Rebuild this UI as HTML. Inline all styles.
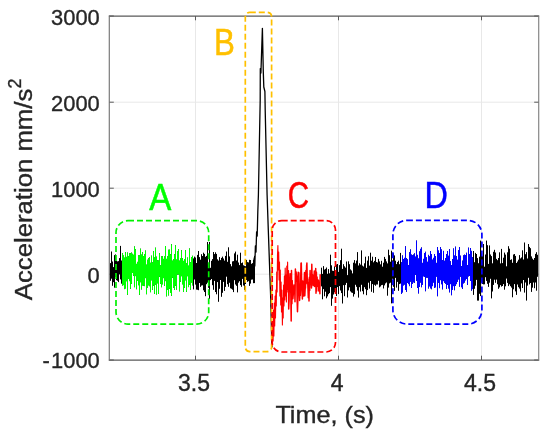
<!DOCTYPE html>
<html><head><meta charset="utf-8"><style>
html,body{margin:0;padding:0;background:#fff;width:550px;height:436px;overflow:hidden}
svg{display:block;filter:blur(0.4px)}
text{font-family:"Liberation Sans", Arial, sans-serif}
.t{stroke:#262626;stroke-width:0.35px}
</style></head><body>
<svg width="550" height="436" viewBox="0 0 550 436">
<rect width="550" height="436" fill="#fff"/>
<line x1="195.5" y1="16.0" x2="195.5" y2="360.0" stroke="#e8e8e8" stroke-width="1"/>
<line x1="338.5" y1="16.0" x2="338.5" y2="360.0" stroke="#e8e8e8" stroke-width="1"/>
<line x1="481.5" y1="16.0" x2="481.5" y2="360.0" stroke="#e8e8e8" stroke-width="1"/>
<line x1="109.5" y1="102.2" x2="538.5" y2="102.2" stroke="#e8e8e8" stroke-width="1"/>
<line x1="109.5" y1="188.2" x2="538.5" y2="188.2" stroke="#e8e8e8" stroke-width="1"/>
<line x1="109.5" y1="274.2" x2="538.5" y2="274.2" stroke="#e8e8e8" stroke-width="1"/>
<path d="M108.9 16.2H539.1M108.9 360.2H539.1" stroke="#5a5a5a" stroke-width="1.2" fill="none"/><path d="M109.3 15.6V360.8" stroke="#7a7a7a" stroke-width="1.2" fill="none"/><path d="M538.7 15.6V360.8" stroke="#878787" stroke-width="1.2" fill="none"/>
<path d="M195.5 360.0v-4.3M195.5 16.0v4.3M338.5 360.0v-4.3M338.5 16.0v4.3M481.5 360.0v-4.3M481.5 16.0v4.3M109.5 16.0h4.3M538.5 16.0h-4.3M109.5 102.2h4.3M538.5 102.2h-4.3M109.5 188.2h4.3M538.5 188.2h-4.3M109.5 274.2h4.3M538.5 274.2h-4.3M109.5 360.0h4.3M538.5 360.0h-4.3" stroke="#5a5a5a" stroke-width="1.0" fill="none"/>
<path d="M110.50 263.1V280.8M111.50 251.5V278.7M112.50 261.5V285.8M113.50 267.1V282.2M114.50 255.1V287.7M115.50 254.4V277.0M116.50 260.9V280.2M117.50 261.4V280.8M118.50 261.1V282.1M119.50 258.1V274.4M120.50 245.9V279.4M121.50 260.5V283.7M122.50 253.3V285.5M123.50 255.5V285.1M124.50 257.7V289.1M125.50 252.1V288.4M126.50 256.9V281.2M127.50 252.6V294.7M128.50 256.1V279.0M129.50 253.4V281.1M130.50 253.2V288.7M131.50 252.6V283.8M132.50 253.8V273.0M133.50 254.8V275.8M134.50 246.5V287.2M135.50 249.2V276.1M136.50 263.9V289.2M137.50 261.9V281.0M138.50 255.0V285.2M139.50 255.4V294.7M140.50 248.7V282.2M141.50 254.6V289.4M142.50 252.1V285.4M143.50 256.0V285.7M144.50 254.4V286.1M145.50 250.6V278.1M146.50 264.7V294.2M147.50 259.8V287.6M148.50 258.1V285.3M149.50 257.4V286.2M150.50 262.8V292.2M151.50 255.7V280.3M152.50 262.4V289.8M153.50 251.2V285.7M154.50 257.5V293.8M155.50 247.7V284.6M156.50 256.7V294.4M157.50 260.3V283.3M158.50 260.5V293.9M159.50 253.3V276.8M160.50 265.4V283.8M161.50 256.4V287.2M162.50 256.1V284.3M163.50 258.9V278.1M164.50 256.5V285.7M165.50 246.0V281.1M166.50 258.9V296.3M167.50 256.4V289.7M168.50 249.8V295.4M169.50 249.7V288.9M170.50 254.2V293.0M171.50 244.2V295.8M172.50 260.7V277.8M173.50 259.0V287.6M174.50 254.2V289.9M175.50 245.4V285.7M176.50 259.6V289.5M177.50 251.4V274.6M178.50 249.1V274.5M179.50 260.7V291.3M180.50 258.5V281.8M181.50 250.3V276.2M182.50 258.1V284.3M183.50 260.9V291.9M184.50 259.0V287.7M185.50 250.1V280.3M186.50 263.4V291.9M187.50 257.6V276.2M188.50 265.7V287.1M189.50 248.5V284.7M190.50 262.1V289.6M191.50 257.3V282.5M192.50 255.8V285.3M193.50 258.4V289.4M194.50 256.6V279.5M195.50 257.5V284.6M196.50 263.0V289.6M197.50 254.9V289.8M198.50 251.0V290.2M199.50 257.1V283.0M200.50 259.7V286.9M201.50 254.2V285.6M202.50 256.0V285.3M203.50 252.7V290.3M204.50 253.9V292.0M205.50 256.8V296.2M206.50 255.9V284.2M207.50 242.0V282.7M208.50 264.6V287.8M209.50 242.0V298.9M210.50 267.8V280.1M211.50 260.8V279.0M212.50 259.1V285.2M213.50 252.0V289.8M214.50 254.1V280.9M215.50 252.3V292.0M216.50 253.9V294.3M217.50 259.3V282.1M218.50 260.6V301.8M219.50 257.1V288.8M220.50 260.1V280.0M221.50 257.9V296.8M222.50 256.6V292.8M223.50 258.5V281.9M224.50 260.6V290.9M225.50 255.9V286.9M226.50 251.5V276.7M227.50 261.8V284.2M228.50 247.3V286.8M229.50 256.4V282.8M230.50 264.1V288.3M231.50 266.3V288.8M232.50 261.4V289.7M233.50 261.1V292.1M234.50 253.4V280.2M235.50 251.6V284.5M236.50 260.5V285.8M237.50 254.7V292.4M238.50 262.5V282.7M239.50 265.1V281.2M240.50 252.7V285.1M241.50 263.1V286.8M242.50 262.5V278.9M243.50 265.3V285.5M244.50 265.8V289.9M245.50 266.2V284.0M246.50 259.9V280.0M247.50 262.1V281.8M248.50 262.4V281.2M249.50 259.8V285.9M250.50 260.0V283.6M251.50 263.8V279.7M252.50 263.1V279.5M253.50 259.7V283.2M254.50 255.8V283.1M321.50 267.7V286.4M322.50 273.9V299.3M323.50 266.1V289.1M324.50 269.6V296.3M325.50 268.9V291.7M326.50 267.5V298.3M327.50 273.8V296.4M328.50 269.1V294.2M329.50 273.3V293.1M330.50 254.7V287.1M331.50 265.3V305.8M332.50 270.7V298.6M333.50 270.9V294.5M334.50 266.4V292.3M335.50 272.0V289.2M336.50 264.5V296.0M337.50 264.0V287.1M338.50 271.9V294.1M339.50 265.1V286.1M340.50 260.2V290.5M341.50 248.7V293.1M342.50 268.9V303.5M343.50 264.2V285.2M344.50 266.3V296.2M345.50 267.6V284.9M346.50 261.5V282.9M347.50 275.1V297.5M348.50 261.3V290.4M349.50 264.2V287.4M350.50 269.4V291.4M351.50 270.5V292.5M352.50 273.4V292.9M353.50 262.7V296.6M354.50 260.1V294.2M355.50 263.4V284.8M356.50 260.6V286.8M357.50 252.1V290.6M358.50 265.5V297.6M359.50 263.2V287.2M360.50 264.6V291.6M361.50 250.4V284.8M362.50 265.6V291.2M363.50 266.5V294.3M364.50 263.3V287.2M365.50 256.7V289.2M366.50 267.9V295.2M367.50 260.6V290.1M368.50 256.2V282.7M369.50 265.6V288.6M370.50 252.7V281.0M371.50 260.7V291.8M372.50 256.7V284.1M373.50 262.3V292.8M374.50 260.9V284.8M375.50 257.0V285.8M376.50 262.0V284.5M377.50 262.5V284.5M378.50 258.9V280.8M379.50 261.4V287.4M380.50 264.3V286.5M381.50 260.8V285.2M382.50 266.7V284.9M383.50 262.7V288.5M384.50 256.9V285.4M385.50 258.9V283.4M386.50 261.4V282.5M387.50 263.4V295.7M388.50 249.7V287.6M389.50 255.2V283.4M390.50 261.7V282.7M391.50 250.7V303.4M392.50 260.4V278.8M393.50 253.3V286.8M394.50 255.4V290.9M395.50 260.7V277.9M396.50 264.1V287.6M397.50 262.0V281.9M398.50 260.7V290.8M399.50 264.2V284.1M400.50 252.9V283.6M401.50 262.3V294.0M402.50 255.5V292.4M403.50 259.1V285.4M404.50 257.9V284.5M405.50 246.3V290.0M406.50 258.1V291.7M407.50 259.4V282.8M408.50 265.1V284.1M409.50 252.3V286.1M410.50 249.5V281.6M411.50 254.6V288.0M412.50 255.3V283.8M413.50 254.6V282.3M414.50 253.4V282.9M415.50 256.7V274.8M416.50 240.6V280.9M417.50 254.9V287.9M418.50 258.5V293.4M419.50 251.5V286.8M420.50 248.9V282.5M421.50 247.5V287.2M422.50 262.9V284.7M423.50 258.9V276.3M424.50 253.2V277.0M425.50 251.8V291.2M426.50 257.4V277.6M427.50 261.8V277.7M428.50 254.9V288.4M429.50 256.4V286.3M430.50 251.0V288.3M431.50 254.3V289.2M432.50 259.7V286.1M433.50 257.9V282.5M434.50 254.0V287.9M435.50 256.0V287.3M436.50 262.9V276.6M437.50 247.2V296.2M438.50 250.6V282.7M439.50 253.2V288.1M440.50 247.2V280.1M441.50 249.5V284.2M442.50 260.2V289.3M443.50 250.9V281.1M444.50 260.8V282.7M445.50 258.0V283.7M446.50 254.2V288.7M447.50 251.1V284.9M448.50 255.8V288.4M449.50 249.2V292.3M450.50 261.3V284.1M451.50 265.1V295.2M452.50 259.1V289.7M453.50 248.5V286.1M454.50 255.6V290.2M455.50 246.7V285.9M456.50 256.2V284.1M457.50 259.8V281.7M458.50 250.3V279.4M459.50 247.1V286.6M460.50 255.7V276.7M461.50 266.2V287.2M462.50 260.7V288.8M463.50 255.4V283.4M464.50 254.7V282.5M465.50 255.0V280.3M466.50 252.8V279.0M467.50 265.2V284.8M468.50 247.7V276.4M469.50 254.1V275.9M470.50 248.1V281.0M471.50 250.9V290.6M472.50 257.2V289.1M473.50 251.0V294.9M474.50 262.2V288.8M475.50 252.9V285.7M476.50 254.0V279.9M477.50 258.1V300.6M478.50 263.2V300.6M479.50 256.7V293.8M480.50 240.6V296.1M481.50 253.6V281.4M482.50 256.2V284.0M483.50 244.0V284.4M484.50 266.7V284.3M485.50 254.5V277.2M486.50 240.6V280.9M487.50 245.2V283.8M488.50 263.9V286.9M489.50 245.4V282.7M490.50 254.5V278.8M491.50 256.1V298.4M492.50 263.3V291.5M493.50 251.8V284.9M494.50 249.8V279.7M495.50 252.5V282.8M496.50 258.9V279.6M497.50 260.2V284.3M498.50 258.0V288.8M499.50 252.3V287.4M500.50 263.4V285.1M501.50 248.9V286.6M502.50 263.1V286.0M503.50 257.7V284.1M504.50 252.6V289.7M505.50 254.6V286.3M506.50 266.3V278.6M507.50 252.3V282.9M508.50 246.2V286.1M509.50 248.7V284.4M510.50 259.9V286.2M511.50 259.3V287.6M512.50 262.8V297.3M513.50 254.5V289.3M514.50 254.0V284.1M515.50 255.9V291.4M516.50 263.0V294.9M517.50 261.5V284.5M518.50 259.7V287.2M519.50 255.1V288.6M520.50 258.4V291.6M521.50 257.4V283.4M522.50 250.3V288.0M523.50 259.5V280.0M524.50 242.5V292.6M525.50 254.2V282.5M526.50 252.1V300.6M527.50 258.5V285.6M528.50 244.0V277.8M529.50 246.9V284.4M530.50 248.2V283.0M531.50 256.4V291.9M532.50 258.6V287.7M533.50 259.8V282.5M534.50 258.0V288.2M535.50 253.9V282.5M536.50 252.2V290.7M537.50 254.8V276.8" stroke="#000" stroke-width="1.0" fill="none"/><path d="M253.6,272 254.2,258 254.8,266 255.4,246 256.0,252 256.6,232 257.2,236 257.8,212 258.4,195 260.2,100 260.3,68.6 260.9,73 262.4,28.3 263.3,72 263.8,87 264.9,91.5 265.2,110 267.1,195 268.3,230 270.6,295 271.9,347 272.3,346" stroke="#000" stroke-width="1.3" fill="none" stroke-linejoin="round"/>
<path d="M122.50 253.3V285.5M123.50 255.5V285.1M124.50 257.7V289.1M125.50 252.1V288.4M126.50 256.9V281.2M127.50 252.6V294.7M128.50 256.1V279.0M129.50 253.4V281.1M130.50 253.2V288.7M131.50 252.6V283.8M132.50 253.8V273.0M133.50 254.8V275.8M134.50 246.5V287.2M135.50 249.2V276.1M136.50 263.9V289.2M137.50 261.9V281.0M138.50 255.0V285.2M139.50 255.4V294.7M140.50 248.7V282.2M141.50 254.6V289.4M142.50 252.1V285.4M143.50 256.0V285.7M144.50 254.4V286.1M145.50 250.6V278.1M146.50 264.7V294.2M147.50 259.8V287.6M148.50 258.1V285.3M149.50 257.4V286.2M150.50 262.8V292.2M151.50 255.7V280.3M152.50 262.4V289.8M153.50 251.2V285.7M154.50 257.5V293.8M155.50 247.7V284.6M156.50 256.7V294.4M157.50 260.3V283.3M158.50 260.5V293.9M159.50 253.3V276.8M160.50 265.4V283.8M161.50 256.4V287.2M162.50 256.1V284.3M163.50 258.9V278.1M164.50 256.5V285.7M165.50 246.0V281.1M166.50 258.9V296.3M167.50 256.4V289.7M168.50 249.8V295.4M169.50 249.7V288.9M170.50 254.2V293.0M171.50 244.2V295.8M172.50 260.7V277.8M173.50 259.0V287.6M174.50 254.2V289.9M175.50 245.4V285.7M176.50 259.6V289.5M177.50 251.4V274.6M178.50 249.1V274.5M179.50 260.7V291.3M180.50 258.5V281.8M181.50 250.3V276.2M182.50 258.1V284.3M183.50 260.9V291.9M184.50 259.0V287.7M185.50 250.1V280.3M186.50 263.4V291.9M187.50 257.6V276.2M188.50 265.7V287.1M189.50 248.5V284.7M190.50 262.1V289.6M191.50 257.3V282.5M192.50 255.8V285.3" stroke="#00ff00" stroke-width="1.0" fill="none"/>
<path d="M288.0,271.7 288.4,270.7 288.7,308.9 289.1,300.2 289.4,277.9 289.8,282.6 290.1,273.7 290.5,287.6 290.8,293.5 291.2,321.0 291.5,270.5 291.9,303.8 292.2,280.4 292.6,291.2 292.9,298.7 293.3,294.3 293.6,292.7 294.0,284.9 294.3,287.1 294.7,289.0 295.0,301.7 295.4,269.0 295.7,280.9 296.1,271.7 296.4,275.0 296.8,277.0 297.1,299.5 297.5,311.8 297.8,302.2 298.2,272.2 298.5,286.9 298.9,272.7 299.2,291.0 299.6,300.4 299.9,292.4 300.3,295.5 300.6,283.8 301.0,263.1 301.3,263.0 301.7,284.1 302.0,291.4 302.4,299.0 302.7,281.0 303.1,285.6 303.4,287.5 303.8,296.1 304.1,283.7 304.5,272.6 304.8,295.8 305.2,288.5 305.5,288.1 305.9,270.6 306.2,283.8 306.6,265.9 306.9,263.0 307.3,281.1 307.6,279.0 308.0,289.1 308.3,297.8 308.7,282.8 309.0,300.9 309.4,277.2 309.7,290.4 310.1,270.4 310.4,283.9 310.8,279.5 311.1,280.5 311.5,288.0 311.8,264.3 312.2,283.3 312.5,274.5 312.9,283.1 313.2,285.6 313.6,278.4 313.9,278.3 314.3,271.1 314.6,286.5 315.0,275.3 315.3,285.3 315.7,268.5 316.0,293.2 316.4,272.0 316.7,291.0 317.1,276.9 317.4,285.4 317.8,279.4 318.1,286.3 318.5,280.5 318.8,291.0 319.2,285.8 319.5,285.8 319.9,293.8 320.2,274.2" stroke="#ff0000" stroke-width="1.5" fill="none" stroke-linejoin="round"/><path d="M272.3,346 272.7,322 273.1,341 273.5,310 273.9,336 274.3,303 274.7,326 275.1,296 275.5,318 275.9,290 276.3,306 276.7,272 277.1,292 277.5,255 277.9,245.5 278.3,270 278.7,252 279.1,280 279.5,262 279.9,296 280.3,270 280.7,305 281.1,282 281.5,312 281.9,290 282.4,325 282.8,298 283.2,318 283.6,285 284.0,306 284.4,276 284.8,300 285.2,268 285.6,296 286.0,275 286.4,302 286.8,266 287.2,292 287.6,262 288.0,290" stroke="#ff0000" stroke-width="1.1" fill="none" stroke-linejoin="round"/>
<path d="M401.50 262.3V294.0M402.50 255.5V292.4M403.50 259.1V285.4M404.50 257.9V284.5M405.50 246.3V290.0M406.50 258.1V291.7M407.50 259.4V282.8M408.50 265.1V284.1M409.50 252.3V286.1M410.50 249.5V281.6M411.50 254.6V288.0M412.50 255.3V283.8M413.50 254.6V282.3M414.50 253.4V282.9M415.50 256.7V274.8M416.50 240.6V280.9M417.50 254.9V287.9M418.50 258.5V293.4M419.50 251.5V286.8M420.50 248.9V282.5M421.50 247.5V287.2M422.50 262.9V284.7M423.50 258.9V276.3M424.50 253.2V277.0M425.50 251.8V291.2M426.50 257.4V277.6M427.50 261.8V277.7M428.50 254.9V288.4M429.50 256.4V286.3M430.50 251.0V288.3M431.50 254.3V289.2M432.50 259.7V286.1M433.50 257.9V282.5M434.50 254.0V287.9M435.50 256.0V287.3M436.50 262.9V276.6M437.50 247.2V296.2M438.50 250.6V282.7M439.50 253.2V288.1M440.50 247.2V280.1M441.50 249.5V284.2M442.50 260.2V289.3M443.50 250.9V281.1M444.50 260.8V282.7M445.50 258.0V283.7M446.50 254.2V288.7M447.50 251.1V284.9M448.50 255.8V288.4M449.50 249.2V292.3M450.50 261.3V284.1M451.50 265.1V295.2M452.50 259.1V289.7M453.50 248.5V286.1M454.50 255.6V290.2M455.50 246.7V285.9M456.50 256.2V284.1M457.50 259.8V281.7M458.50 250.3V279.4M459.50 247.1V286.6M460.50 255.7V276.7M461.50 266.2V287.2M462.50 260.7V288.8M463.50 255.4V283.4M464.50 254.7V282.5M465.50 255.0V280.3M466.50 252.8V279.0M467.50 265.2V284.8M468.50 247.7V276.4M469.50 254.1V275.9M470.50 248.1V281.0M471.50 250.9V290.6M472.50 257.2V289.1" stroke="#0000ff" stroke-width="1.0" fill="none"/>
<rect x="116" y="220.7" width="92.69999999999999" height="103.40000000000003" rx="12" ry="12" fill="none" stroke="#00f000" stroke-width="1.7" stroke-dasharray="6 3"/>
<rect x="245.3" y="12.3" width="26.30000000000001" height="339.3" rx="4.5" ry="4.5" fill="none" stroke="#ffc000" stroke-width="1.7" stroke-dasharray="6 3"/>
<rect x="272.2" y="220.6" width="63.30000000000001" height="131.4" rx="9.5" ry="9.5" fill="none" stroke="#ff0000" stroke-width="1.7" stroke-dasharray="6 3"/>
<rect x="392.9" y="220.4" width="89.0" height="103.70000000000002" rx="14" ry="14" fill="none" stroke="#0000ff" stroke-width="1.7" stroke-dasharray="6 3"/>
<g class="t" font-size="21.9" fill="#262626">
<text x="99.8" y="25.0" text-anchor="end">3000</text>
<text x="99.8" y="111.0" text-anchor="end">2000</text>
<text x="99.8" y="197.0" text-anchor="end">1000</text>
<text x="99.8" y="283.0" text-anchor="end">0</text>
<text x="99.8" y="368.4" text-anchor="end">-<tspan dx="1.3">1000</tspan></text>
</g>
<g class="t" font-size="23" fill="#262626">
<text x="194.0" y="390.6" text-anchor="middle">3.5</text>
<text x="337.2" y="390.6" text-anchor="middle">4</text>
<text x="480.0" y="390.6" text-anchor="middle">4.5</text>
</g>
<text class="t" x="275.4" y="422.6" font-size="24" fill="#262626" textLength="98.5" lengthAdjust="spacingAndGlyphs">Time, (s)</text>
<text class="t" transform="translate(32.3,300.2) rotate(-90)" font-size="24.6" fill="#262626" textLength="211.5" lengthAdjust="spacingAndGlyphs">Acceleration mm/s</text>
<text class="t" transform="translate(21.0,88.4) rotate(-90)" font-size="18" fill="#262626">2</text>
<text transform="translate(149.3,209.5) scale(0.9,1)" font-size="36.8" fill="#00ff00" stroke="#00ff00" stroke-width="0.5">A</text>
<text transform="translate(213.9,54.5) scale(0.85,1)" font-size="36.8" fill="#ffc000" stroke="#ffc000" stroke-width="0.5">B</text>
<text transform="translate(287.7,208.1) scale(0.8,1)" font-size="36.8" fill="#ff0000" stroke="#ff0000" stroke-width="0.5">C</text>
<text transform="translate(424.6,207.9) scale(0.88,1)" font-size="36.8" fill="#0000ff" stroke="#0000ff" stroke-width="0.5">D</text>
</svg>
</body></html>
